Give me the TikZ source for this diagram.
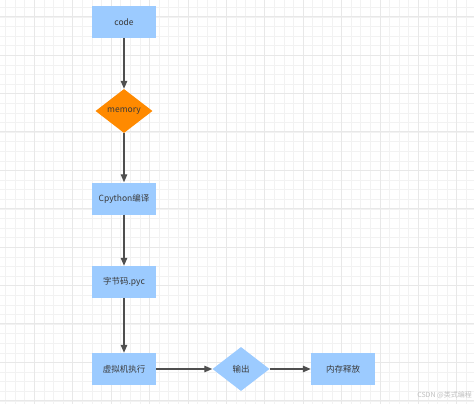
\documentclass[tikz,border=0pt]{standalone}
\usepackage{fontspec}
\setmainfont{Noto Sans CJK SC}
\usetikzlibrary{shapes.geometric,arrows.meta}
\definecolor{boxblue}{HTML}{9CCBFF}
\definecolor{memorange}{HTML}{FF8A00}
\definecolor{flowgray}{HTML}{4F4F4F}
\definecolor{textgray}{HTML}{3A3A3A}

\begin{document}
\begin{tikzpicture}[x=1pt,y=1pt,
  box/.style={fill=boxblue, minimum width=64pt, minimum height=32pt, inner sep=0pt, text=textgray, font=\fontsize{8.5}{10}\selectfont},
  choice/.style={diamond, fill=#1, minimum width=57pt, minimum height=44pt, inner sep=0pt, text=textgray, font=\fontsize{8.5}{10}\selectfont},
  flow/.style={draw=flowgray, line width=1.2pt, -{Triangle[length=8pt,width=6.5pt]}}]
% Set the page and the grid
\useasboundingbox (0,0) rectangle (474,-404);
\fill[white] (0,0) rectangle (474,-404);
\foreach \x in {5.5,15.1,...,474} \draw[black!5, line width=0.5pt] (\x,0) -- (\x,-404);
\foreach \y in {7.3,16.9,...,404} \draw[black!5, line width=0.5pt] (0,-\y) -- (474,-\y);
\foreach \x in {34.3,72.7,...,474} \draw[black!9, line width=0.5pt] (\x,0) -- (\x,-404);
\foreach \y in {16.5,54.9,...,404} \draw[black!9, line width=0.5pt] (0,-\y) -- (474,-\y);

% Draw the steps
\node[box] (code) at (124,-22) {code};
\node[choice=memorange] (memory) at (124,-111) {memory};
\node[box] (compile) at (124,-198.5) {Cpython编译};
\node[box] (bytecode) at (124,-282) {字节码.pyc};
\node[box] (vm) at (124,-369) {虚拟机执行};
\node[choice=boxblue] (output) at (241,-369) {输出};
\node[box] (free) at (343,-369) {内存释放};

% Connect them
\draw[flow] (code) -- (memory);
\draw[flow] (memory) -- (compile);
\draw[flow] (compile) -- (bytecode);
\draw[flow] (bytecode) -- (vm);
\draw[flow] (vm) -- (output);
\draw[flow] (output) -- (free);

\node[anchor=east, text=black!25, font=\fontsize{7}{8}\selectfont, inner sep=0pt] (mark) at (472,-395) {CSDN @类式编程};
\end{tikzpicture}
\end{document}
